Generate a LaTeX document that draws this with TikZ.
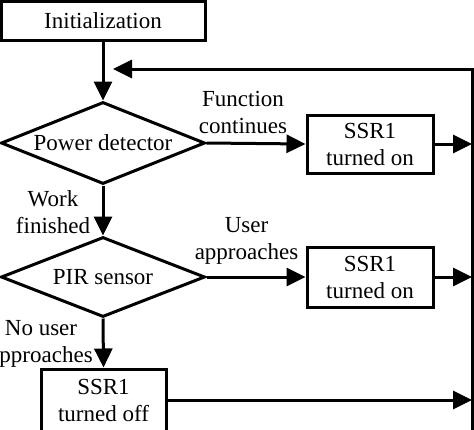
\documentclass[tikz,border=0pt]{standalone}
\usepackage{fontspec}
\setmainfont{Liberation Serif}
\usetikzlibrary{shapes.geometric,arrows.meta}
\begin{document}
\begin{tikzpicture}[x=1pt,y=-1pt,
  every node/.style={font=\fontsize{23}{27}\selectfont, inner sep=0pt},
  boxnode/.style={draw, line width=3pt, rectangle, align=center},
  decnode/.style={draw, line width=3pt, diamond, aspect=2.5},
  lbl/.style={align=center},
  flow/.style={line width=3pt, -{Triangle[length=19pt,width=18pt]}},
  plain/.style={line width=3pt}]
\useasboundingbox (0,0) rectangle (474,429);
\node[boxnode, minimum width=204pt, minimum height=39pt] (init) at (103,20.5) {Initialization};
\node[decnode, minimum width=204pt, minimum height=82pt] (pd) at (103,143) {Power detector};
\node[boxnode, minimum width=126pt, minimum height=58pt] (s1) at (370,144) {SSR1\\turned on};
\node[decnode, minimum width=204pt, minimum height=80pt] (pir) at (103,277) {PIR sensor};
\node[boxnode, minimum width=126pt, minimum height=60pt] (s2) at (370,277) {SSR1\\turned on};
\node[boxnode, minimum width=125pt, minimum height=62pt] (s3) at (103.5,400) {SSR1\\turned off};

\node[lbl] (fc) at (243,112) {Function\\continues};
\node[lbl] (wf) at (53,212.5) {Work\\finished};
\node[lbl] (ua) at (246.5,240.5) {User\\approaches};
\node[lbl] (nu) at (41,343.5) {No user\\approaches};

\coordinate (fbR) at (472,69);
\coordinate (fbT) at (113,69);
\coordinate (rb) at (472,432);
\coordinate (r1) at (472,144);
\coordinate (r2) at (472,277);
\coordinate (r3) at (472,400);

\draw[flow] (init.south) -- (pd.north);
\draw[flow] (pd.east) -- (s1.west);
\draw[flow] (pd.south) -- (pir.north);
\draw[flow] (pir.east) -- (s2.west);
\draw[flow] (pir.south) -- (s3.north);
\draw[flow] (s1.east) -- (r1);
\draw[flow] (s2.east) -- (r2);
\draw[flow] (s3.east) -- (r3);
\draw[plain] (rb) -- (fbR);
\draw[flow] ([xshift=1.5pt]fbR) -- (fbT);
\end{tikzpicture}
\end{document}
